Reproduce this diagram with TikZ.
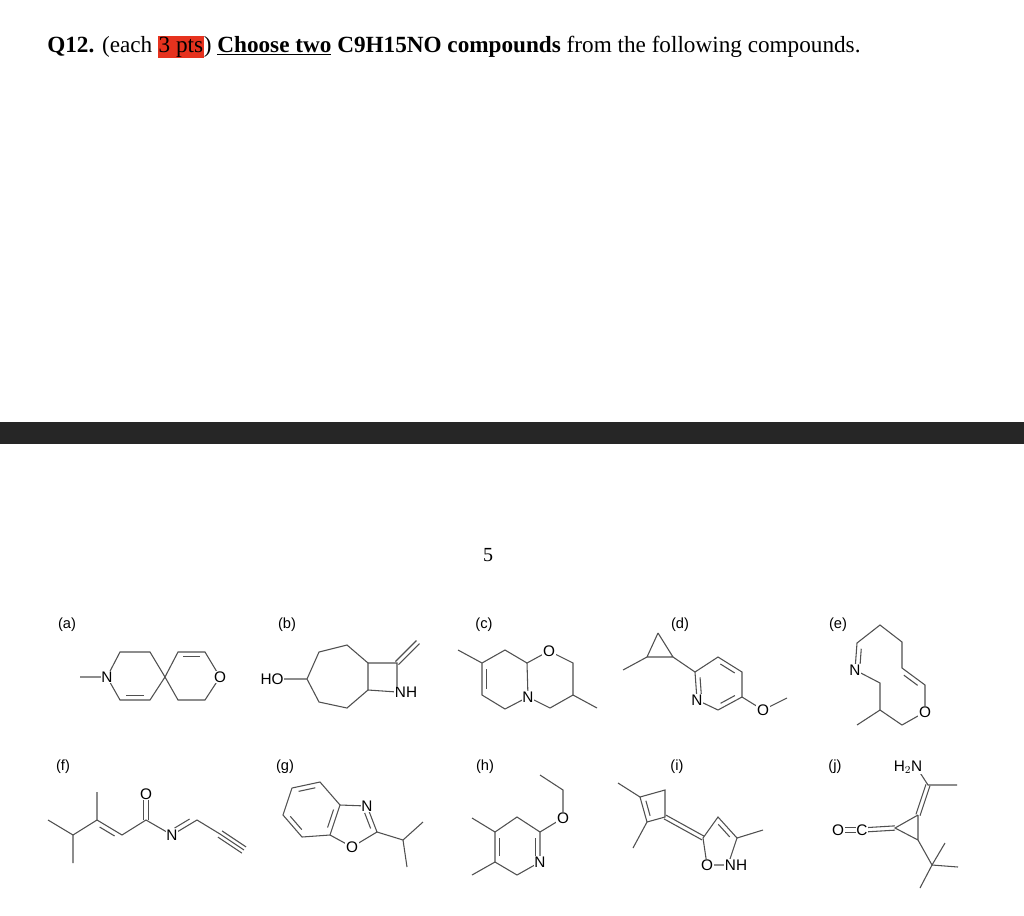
\documentclass[tikz,border=0pt]{standalone}
\usepackage{fontspec}
\setmainfont{Liberation Serif}
\newfontfamily\chemfont{Liberation Sans}
\usetikzlibrary{calc}
\definecolor{hlred}{RGB}{230,50,30}
\definecolor{barc}{RGB}{38,38,38}
\definecolor{bondc}{RGB}{80,80,80}
\newcommand\ib[3]{\draw[bond] ($(#1)!0.2!(#2)!#3!90:(#2)$) -- ($(#2)!0.2!(#1)!#3!-90:(#1)$);}
\newcommand\dd[2]{\draw[bond] ($(#1)!1.6pt!90:(#2)$) -- ($(#2)!1.6pt!-90:(#1)$);\draw[bond] ($(#1)!-1.6pt!90:(#2)$) -- ($(#2)!-1.6pt!-90:(#1)$);}
\begin{document}
\begin{tikzpicture}[x=0.75pt,y=-0.75pt,
  bond/.style={draw=bondc,line width=0.8pt},
  atm/.style={fill=white,inner sep=0.6pt,font=\chemfont\fontsize{11.5}{13}\selectfont},
  lbl/.style={font=\chemfont\fontsize{11}{13}\selectfont}]
\useasboundingbox[fill=white] (0,0) rectangle (1024,915);
% header
\node[anchor=base west,inner sep=0,font=\fontsize{17.4}{20}\selectfont] (hdr) at (47,52)
 {\textbf{Q12.} (each {\setlength\fboxsep{0.5pt}\colorbox{hlred}{3 pts}}) \textbf{\underline{Choose two}} \textbf{C9H15NO compounds} from the following compounds.};
\fill[barc] (0,422) rectangle (1024,444);
\node[font=\fontsize{15}{17}\selectfont] (pg) at (488,555) {5};
% labels
\node[lbl] (la) at (67,625) {(a)};
\node[lbl] (lb) at (287,625) {(b)};
\node[lbl] (lc) at (484,625) {(c)};
\node[lbl] (ld) at (680,625) {(d)};
\node[lbl] (le) at (838,625) {(e)};
\node[lbl] (lf) at (63,767) {(f)};
\node[lbl] (lg) at (285,767) {(g)};
\node[lbl] (lh) at (485,767) {(h)};
\node[lbl] (li) at (677,767) {(i)};
\node[lbl] (lj) at (835,767) {(j)};
% (a)
\coordinate (am) at (80,677); \coordinate (a1) at (107,677); \coordinate (a2) at (120,652);
\coordinate (a3) at (150,652); \coordinate (a4) at (165,677); \coordinate (a5) at (150,700);
\coordinate (a6) at (120,700); \coordinate (a7) at (178,652); \coordinate (a8) at (205,652);
\coordinate (a9) at (220,677); \coordinate (a10) at (205,700); \coordinate (a11) at (178,700);
\draw[bond] (am)--(a1)--(a2)--(a3)--(a4)--(a5)--(a6)--(a1);
\draw[bond] (a4)--(a7)--(a8)--(a9)--(a10)--(a11)--(a4);
\ib{a5}{a6}{-3.5pt} \ib{a7}{a8}{-3.5pt}
\node[atm] at (a1) {N}; \node[atm] at (a9) {O};
% (b)
\coordinate (bO) at (281,679); \coordinate (b1) at (307,679); \coordinate (b2) at (319,652);
\coordinate (b3) at (347,645); \coordinate (b4) at (368,663); \coordinate (b5) at (368,690);
\coordinate (b6) at (347,708); \coordinate (b7) at (319,702); \coordinate (b8) at (397,663);
\coordinate (bN) at (397,692); \coordinate (b10) at (418,642);
\draw[bond] (bO)--(b1)--(b2)--(b3)--(b4)--(b5)--(b6)--(b7)--(b1);
\draw[bond] (b4)--(b8)--(bN)--(b5);
\dd{b8}{b10}
\node[atm] at (272,679) {HO}; \node[atm] at (406,692) {NH};
% (c)
\coordinate (cm1) at (458,650); \coordinate (c1) at (482,663); \coordinate (c2) at (505,650);
\coordinate (c3) at (527,663); \coordinate (cN) at (528,697); \coordinate (c5) at (505,709);
\coordinate (c6) at (482,695); \coordinate (cO) at (549,651); \coordinate (c8) at (573,663);
\coordinate (c9) at (573,695); \coordinate (c10) at (550,708); \coordinate (cm2) at (597,708);
\draw[bond] (cm1)--(c1)--(c2)--(c3)--(cN)--(c5)--(c6)--(c1);
\draw[bond] (c3)--(cO)--(c8)--(c9)--(c10)--(cN); \draw[bond] (c9)--(cm2);
\ib{c6}{c1}{-3.5pt}
\node[atm] at (cO) {O}; \node[atm] at (cN) {N};
% (d)
\coordinate (d1) at (658,633); \coordinate (d2) at (647,657); \coordinate (d3) at (673,657);
\coordinate (dm) at (623,670); \coordinate (p2) at (695,672); \coordinate (p3) at (718,657);
\coordinate (p4) at (742,672); \coordinate (p5) at (742,697); \coordinate (p6) at (718,710);
\coordinate (pN) at (697,700); \coordinate (dO) at (763,710); \coordinate (dm2) at (787,698);
\draw[bond] (d1)--(d2)--(d3)--(d1); \draw[bond] (dm)--(d2); \draw[bond] (d3)--(p2);
\draw[bond] (p2)--(p3)--(p4)--(p5)--(p6)--(pN)--(p2);
\draw[bond] (p5)--(dO)--(dm2);
\ib{pN}{p2}{-3.5pt} \ib{p3}{p4}{-3.5pt} \ib{p5}{p6}{-3.5pt}
\node[atm] at (pN) {N}; \node[atm] at (dO) {O};
% (e)
\coordinate (eN) at (855,670); \coordinate (e2) at (857,643); \coordinate (e3) at (880,625);
\coordinate (e4) at (902,642); \coordinate (e5) at (902,668); \coordinate (e6) at (925,685);
\coordinate (eO) at (925,712); \coordinate (e8) at (902,725); \coordinate (e9) at (880,710);
\coordinate (e10) at (880,683); \coordinate (em) at (857,725);
\draw[bond] (eN)--(e2)--(e3)--(e4)--(e5)--(e6)--(eO)--(e8)--(e9)--(e10)--(eN);
\draw[bond] (e9)--(em);
\ib{eN}{e2}{-3.5pt} \ib{e5}{e6}{-3.5pt}
\node[atm] at (eN) {N}; \node[atm] at (eO) {O};
% (f)
\coordinate (f1) at (48,820); \coordinate (f2) at (73,835); \coordinate (f3) at (73,863);
\coordinate (f4) at (97,820); \coordinate (f5) at (97,792); \coordinate (f6) at (122,835);
\coordinate (f7) at (146,820); \coordinate (fO) at (146,794); \coordinate (fN) at (172,835);
\coordinate (f9) at (197,820); \coordinate (f10) at (220,834); \coordinate (f11) at (244,850);
\draw[bond] (f1)--(f2)--(f3); \draw[bond] (f2)--(f4)--(f5); \draw[bond] (f4)--(f6)--(f7)--(fN)--(f9)--(f10);
\ib{f4}{f6}{-3.5pt} \dd{f7}{fO} \ib{fN}{f9}{3.5pt}
\draw[bond] (f10)--(f11);
\draw[bond] ($(f10)!2.8pt!90:(f11)$) -- ($(f11)!2.8pt!-90:(f10)$);
\draw[bond] ($(f10)!-2.8pt!90:(f11)$) -- ($(f11)!-2.8pt!-90:(f10)$);
\node[atm] at (fO) {O}; \node[atm] at (fN) {N};
% (g)
\coordinate (g1) at (292,788); \coordinate (g2) at (320,782); \coordinate (g3) at (340,805);
\coordinate (g4) at (330,835); \coordinate (g5) at (302,837); \coordinate (g6) at (283,815);
\coordinate (gN) at (367,806); \coordinate (g8) at (377,832); \coordinate (gO) at (352,847);
\coordinate (g9) at (403,840); \coordinate (g10) at (423,822); \coordinate (g11) at (407,867);
\draw[bond] (g1)--(g2)--(g3)--(g4)--(g5)--(g6)--(g1);
\draw[bond] (g3)--(gN)--(g8)--(gO)--(g4); \draw[bond] (g8)--(g9)--(g10); \draw[bond] (g9)--(g11);
\ib{g1}{g2}{-3.5pt} \ib{g3}{g4}{-3.5pt} \ib{g5}{g6}{-3.5pt} \ib{gN}{g8}{-3.5pt}
\node[atm] at (gN) {N}; \node[atm] at (gO) {O};
% (h)
\coordinate (h1) at (495,832); \coordinate (h2) at (517,817); \coordinate (h3) at (540,832);
\coordinate (hN) at (540,862); \coordinate (h5) at (517,875); \coordinate (h6) at (495,862);
\coordinate (hO) at (563,818); \coordinate (h8) at (563,790); \coordinate (h9) at (540,775);
\coordinate (hm1) at (472,818); \coordinate (hm2) at (472,875);
\draw[bond] (h1)--(h2)--(h3)--(hN)--(h5)--(h6)--(h1);
\draw[bond] (h3)--(hO)--(h8)--(h9); \draw[bond] (hm1)--(h1); \draw[bond] (hm2)--(h6);
\ib{h6}{h1}{-3.5pt} \ib{h3}{hN}{-3.5pt}
\node[atm] at (hO) {O}; \node[atm] at (hN) {N};
% (i)
\coordinate (i1) at (640,797); \coordinate (i2) at (665,790); \coordinate (i3) at (665,817);
\coordinate (i4) at (647,822); \coordinate (im1) at (618,783); \coordinate (im2) at (633,848);
\coordinate (i5) at (703,838); \coordinate (i6) at (718,817); \coordinate (i7) at (737,838);
\coordinate (iN) at (728,865); \coordinate (iO) at (707,865); \coordinate (im3) at (763,830);
\draw[bond] (i1)--(i2)--(i3)--(i4)--(i1); \draw[bond] (im1)--(i1); \draw[bond] (i4)--(im2);
\dd{i3}{i5}
\draw[bond] (i5)--(i6)--(i7)--(iN)--(iO)--(i5); \draw[bond] (i7)--(im3);
\ib{i4}{i1}{-3.5pt} \ib{i6}{i7}{-3.5pt}
\node[atm] at (iO) {O}; \node[atm] at (736,865) {NH};
% (j)
\coordinate (jN) at (917,768); \coordinate (j1) at (928,785); \coordinate (jm) at (957,785);
\coordinate (j2) at (918,815); \coordinate (j3) at (895,828); \coordinate (j4) at (918,840);
\coordinate (jC) at (862,830); \coordinate (jO) at (838,830); \coordinate (jt) at (932,865);
\coordinate (t1) at (945,843); \coordinate (t2) at (958,867); \coordinate (t3) at (920,888);
\draw[bond] (jN)--(j1)--(jm); \dd{j1}{j2}
\draw[bond] (j2)--(j3)--(j4)--(j2); \dd{j3}{jC} \dd{jC}{jO}
\draw[bond] (j4)--(jt)--(t1); \draw[bond] (jt)--(t2); \draw[bond] (jt)--(t3);
\node[atm] at (jO) {O}; \node[atm] at (jC) {C}; \node[atm] at (908,767) {H$_2$N};
\end{tikzpicture}
\end{document}
